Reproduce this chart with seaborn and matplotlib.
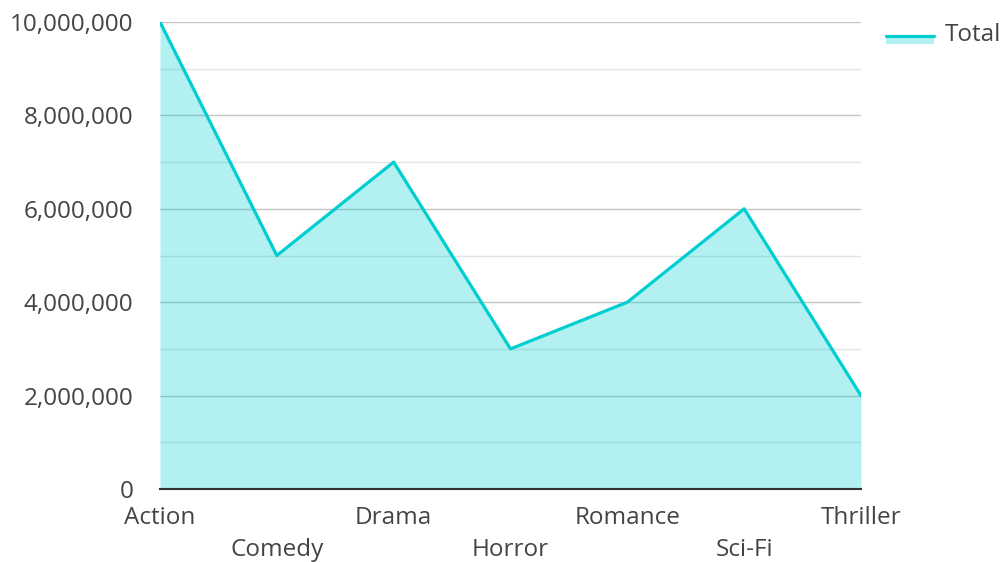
import matplotlib
matplotlib.use("Agg")
import matplotlib.pyplot as plt
import seaborn as sns
import pandas as pd
from matplotlib.patches import Rectangle
from matplotlib.lines import Line2D
from matplotlib.legend_handler import HandlerBase
from matplotlib.ticker import FuncFormatter, MultipleLocator

categories = ["Action", "Comedy", "Drama", "Horror", "Romance", "Sci-Fi", "Thriller"]
totals = [10000000, 5000000, 7000000, 3000000, 4000000, 6000000, 2000000]
series_name = "Total"

LINE = "#00CED1"
TEXT = "#444444"
FS = 17.5

sns.set_theme(style="white")
plt.rcParams["font.family"] = ["Open Sans", "DejaVu Sans"]

df = pd.DataFrame({"genre": categories, "value": totals})

fig = plt.figure(figsize=(10.02, 5.62), dpi=100)
ax = fig.add_axes([160/1002, 73/562, 701/1002, 467/562])

sns.lineplot(data=df, x="genre", y="value", ax=ax, color=LINE, linewidth=2.3, zorder=3, sort=False)
pos = list(range(len(categories)))
ax.fill_between(pos, totals, 0, color=LINE, alpha=0.3, linewidth=0, zorder=2)

ax.set_xlim(0, len(categories) - 1)
ax.set_ylim(0, 10000000)
ax.yaxis.set_major_locator(MultipleLocator(2000000))
ax.yaxis.set_minor_locator(MultipleLocator(1000000))
ax.yaxis.set_major_formatter(FuncFormatter(lambda v, p: f"{int(v):,}"))
ax.grid(True, which="major", axis="y", color="#c4c4c4", linewidth=1, zorder=1)
ax.grid(True, which="minor", axis="y", color="#e4e4e4", linewidth=1, zorder=1)
ax.grid(False, axis="x")
ax.set_axisbelow(True)

for s in ["top", "right", "left"]:
    ax.spines[s].set_visible(False)
ax.spines["bottom"].set_color("#333333")
ax.spines["bottom"].set_linewidth(1.5)
ax.spines["bottom"].set_zorder(4)

ax.set_xlabel("")
ax.set_ylabel("")
ax.set_xticks(pos)
ax.set_xticklabels(categories)
ax.tick_params(axis="y", which="both", length=0, pad=19, labelsize=FS, labelcolor=TEXT)
ax.tick_params(axis="x", length=0, labelsize=FS, labelcolor=TEXT)
for i, t in enumerate(ax.xaxis.get_major_ticks()):
    t.set_pad(12 if i % 2 == 0 else 35)


class AreaHandler(HandlerBase):
    def create_artists(self, legend, orig_handle, xdescent, ydescent, width, height, fontsize, trans):
        top = -ydescent + height * 0.5 - 2.2
        rect = Rectangle((-xdescent, top - 6.0), width, 6.0,
                         facecolor=LINE, alpha=0.3, edgecolor="none", transform=trans)
        line = Line2D([-xdescent, -xdescent + width], [top, top], color=LINE, linewidth=2.3, transform=trans)
        return [rect, line]


proxy = Line2D([], [], color=LINE)
leg = fig.legend([proxy], [series_name], handler_map={proxy: AreaHandler()},
                 loc="center left", bbox_to_anchor=(886/1002, 1 - 35/562),
                 frameon=False, fontsize=FS, handlelength=1.97, handletextpad=0.45, labelcolor=TEXT,
                 borderaxespad=0, borderpad=0)

fig.savefig("out.png", dpi=100)
